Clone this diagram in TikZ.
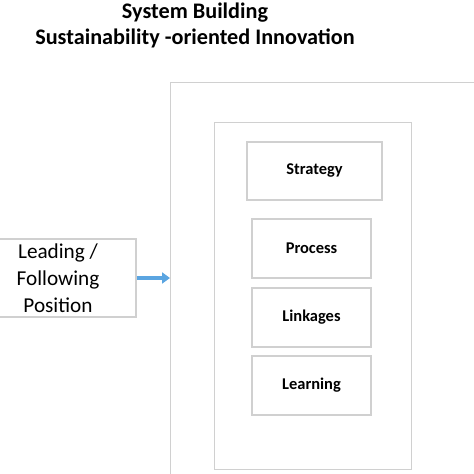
\documentclass[tikz,border=0pt]{standalone}
\usepackage{fontspec}
\setmainfont{Carlito}
\usetikzlibrary{arrows.meta}
\definecolor{boxgray}{RGB}{208,208,208}
\definecolor{arrowblue}{RGB}{91,165,225}
\tikzset{
  frame/.style={draw=boxgray, line width=1.3bp, inner sep=0pt, anchor=north west},
  itembox/.style={draw=boxgray, line width=1.3bp, inner sep=0pt, font=\fontsize{16.5}{19}\selectfont\bfseries},
  titletext/.style={font=\fontsize{22.3}{26}\selectfont\bfseries, align=center, inner sep=0pt},
  flow/.style={arrowblue, line width=3.5bp, -{Triangle[length=8bp,width=11bp]}}
}
\begin{document}
\begin{tikzpicture}[x=1bp,y=-1bp]
\useasboundingbox (0,0) rectangle (474,474);
\clip (0,0) rectangle (474,474);
\node[titletext] (title) at (195,25.5) {System Building\\Sustainability -oriented Innovation};
\node[frame, minimum width=330bp, minimum height=420bp] (outer) at (170,82) {};
\node[frame, minimum width=197bp, minimum height=347bp] (middle) at (214,122) {};
\node[itembox, minimum width=135bp, minimum height=58bp] (strategy) at (314.5,171) {Strategy};
\node[itembox, minimum width=119bp, minimum height=59bp] (process) at (311.5,248.5) {Process};
\node[itembox, minimum width=119bp, minimum height=59bp] (linkages) at (311.5,317.5) {Linkages};
\node[itembox, minimum width=119bp, minimum height=59bp] (learning) at (311.5,385.5) {Learning};
\node[draw=boxgray, line width=1.3bp, minimum width=156bp, minimum height=78bp, inner sep=0pt,
  font=\fontsize{21.3}{27}\selectfont, align=center] (lead) at (58,278) {Leading /\\Following\\Position};
\draw[flow] (lead.east) -- (lead.east -| outer.west);
\end{tikzpicture}
\end{document}
